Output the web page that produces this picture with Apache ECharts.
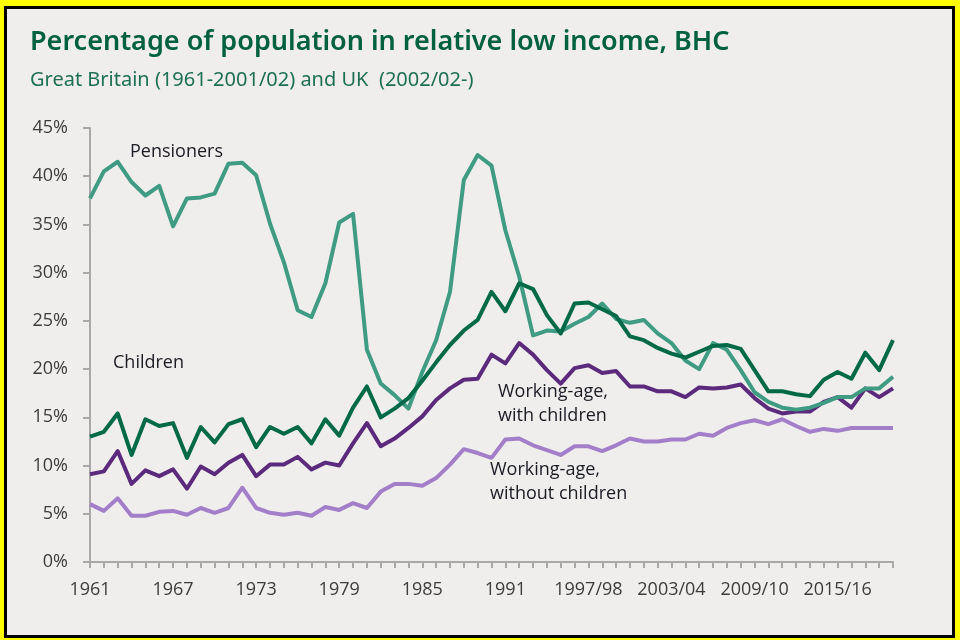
<!DOCTYPE html>
<html>
<head>
<meta charset="utf-8">
<script src="https://cdn.jsdelivr.net/npm/echarts@6/dist/echarts.min.js"></script>
<style>
  html, body { margin: 0; padding: 0; background: #ffff00; }
  #frame {
    position: absolute; left: 4px; top: 6px; width: 945px; height: 626px;
    border: 3px solid #000; background: #efeeec;
  }
  #chart { position: absolute; left: -7px; top: -9px; width: 960px; height: 640px; }
</style>
</head>
<body>
<div id="frame"><div id="chart"></div></div>
<script>
const years = [
  "1961", "1962", "1963", "1964", "1965", "1966", "1967", "1968", "1969", "1970",
  "1971", "1972", "1973", "1974", "1975", "1976", "1977", "1978", "1979", "1980",
  "1981", "1982", "1983", "1984", "1985", "1986", "1987", "1988", "1989", "1990",
  "1991", "1992", "1993/94", "1994/95", "1995/96", "1996/97", "1997/98", "1998/99",
  "1999/00", "2000/01", "2001/02", "2002/03", "2003/04", "2004/05", "2005/06",
  "2006/07", "2007/08", "2008/09", "2009/10", "2010/11", "2011/12", "2012/13",
  "2013/14", "2014/15", "2015/16", "2016/17", "2017/18", "2018/19", "2019/20"
];

const pensioners = [
  37.7, 40.5, 41.5, 39.4, 38.0, 39.0, 34.8, 37.7, 37.8, 38.2,
  41.3, 41.4, 40.1, 35.1, 31.1, 26.1, 25.4, 28.9, 35.2, 36.1,
  22.0, 18.5, 17.3, 15.9, 19.7, 23.0, 28.0, 39.6, 42.2, 41.1,
  34.4, 29.6, 23.5, 24.0, 23.9, 24.7, 25.4, 26.8, 25.2, 24.8,
  25.1, 23.7, 22.7, 20.9, 20.0, 22.7, 22.0, 19.9, 17.6, 16.6,
  16.0, 15.8, 16.0, 16.5, 17.1, 17.1, 18.0, 18.0, 19.2
];

const children = [
  13.0, 13.5, 15.4, 11.1, 14.8, 14.1, 14.4, 10.8, 14.0, 12.4,
  14.3, 14.8, 11.9, 14.0, 13.3, 14.0, 12.3, 14.8, 13.1, 16.0,
  18.2, 15.0, 15.9, 17.0, 18.8, 20.7, 22.5, 24.0, 25.1, 28.0,
  26.0, 28.9, 28.3, 25.6, 23.7, 26.8, 26.9, 26.2, 25.5, 23.4,
  23.0, 22.2, 21.6, 21.2, 21.8, 22.4, 22.5, 22.1, 19.9, 17.7,
  17.7, 17.4, 17.2, 18.9, 19.7, 19.0, 21.7, 19.9, 23.0
];

const workingWithChildren = [
  9.1, 9.4, 11.5, 8.1, 9.5, 8.9, 9.6, 7.6, 9.9, 9.1,
  10.3, 11.1, 8.9, 10.1, 10.1, 10.9, 9.6, 10.3, 10.0, 12.3,
  14.4, 12.0, 12.8, 13.9, 15.1, 16.8, 18.0, 18.9, 19.0, 21.5,
  20.6, 22.7, 21.5, 19.9, 18.5, 20.1, 20.4, 19.6, 19.8, 18.2,
  18.2, 17.7, 17.7, 17.1, 18.1, 18.0, 18.1, 18.4, 17.0, 15.9,
  15.4, 15.6, 15.6, 16.6, 17.1, 16.0, 18.0, 17.1, 18.0
];

const workingWithoutChildren = [
  6.0, 5.3, 6.6, 4.8, 4.8, 5.2, 5.3, 4.9, 5.6, 5.1,
  5.6, 7.7, 5.6, 5.1, 4.9, 5.1, 4.8, 5.7, 5.4, 6.1,
  5.6, 7.3, 8.1, 8.1, 7.9, 8.7, 10.1, 11.7, 11.3, 10.8,
  12.7, 12.8, 12.1, 11.6, 11.1, 12.0, 12.0, 11.5, 12.1, 12.8,
  12.5, 12.5, 12.7, 12.7, 13.3, 13.1, 13.9, 14.4, 14.7, 14.3,
  14.8, 14.1, 13.5, 13.8, 13.6, 13.9, 13.9, 13.9, 13.9
];

const axisFont = "'Open Sans', 'Noto Sans', sans-serif";
const noteStyle = { fill: "#1b1b24", font: "18px " + axisFont, lineHeight: 24 };

function line(name, data, color) {
  return {
    name: name,
    type: "line",
    data: data,
    symbol: "none",
    lineStyle: { color: color, width: 4, join: "round" },
    itemStyle: { color: color }
  };
}

const chart = echarts.init(document.getElementById("chart"));
chart.setOption({
  animation: false,
  backgroundColor: "transparent",
  title: [
    {
      text: "Percentage of population in relative low income, BHC",
      left: 30, top: 29, padding: 0,
      textStyle: { color: "#00613f", fontSize: 27, fontWeight: 600, fontFamily: "'Noto Sans', sans-serif" }
    },
    {
      text: "Great Britain (1961-2001/02) and UK  (2002/02-)",
      left: 30, top: 70, padding: 0,
      textStyle: { color: "#1d6f55", fontSize: 20, fontWeight: "normal", fontFamily: "'Noto Sans', sans-serif" }
    }
  ],
  grid: { left: 90, right: 67, top: 128, bottom: 78 },
  xAxis: {
    type: "category",
    data: years,
    boundaryGap: false,
    axisLine: { lineStyle: { color: "#a8a8a8", width: 2 } },
    axisTick: { interval: 0, length: 6, lineStyle: { color: "#a8a8a8", width: 2 } },
    axisLabel: { interval: 5, color: "#3c3c3c", fontSize: 18, fontFamily: axisFont, margin: 19 },
    splitLine: { show: false }
  },
  yAxis: {
    type: "value",
    min: 0, max: 45, interval: 5,
    axisLine: { show: true, lineStyle: { color: "#a8a8a8", width: 2 } },
    axisTick: { show: true, length: 7, lineStyle: { color: "#a8a8a8", width: 2 } },
    axisLabel: { formatter: "{value}%", color: "#3c3c3c", fontSize: 18, fontFamily: axisFont, margin: 22 },
    splitLine: { show: false }
  },
  series: [
    line("Working-age, without children", workingWithoutChildren, "#a47fc9"),
    line("Working-age, with children", workingWithChildren, "#5c2a7c"),
    line("Pensioners", pensioners, "#3f9b82"),
    line("Children", children, "#006a47")
  ],
  graphic: [
    { type: "text", left: 130, top: 140, style: Object.assign({ text: "Pensioners" }, noteStyle) },
    { type: "text", left: 113, top: 351, style: Object.assign({ text: "Children" }, noteStyle) },
    { type: "text", left: 498, top: 380, style: Object.assign({ text: "Working-age,\nwith children" }, noteStyle) },
    { type: "text", left: 490, top: 458, style: Object.assign({ text: "Working-age,\nwithout children" }, noteStyle) }
  ]
});
</script>
</body>
</html>
